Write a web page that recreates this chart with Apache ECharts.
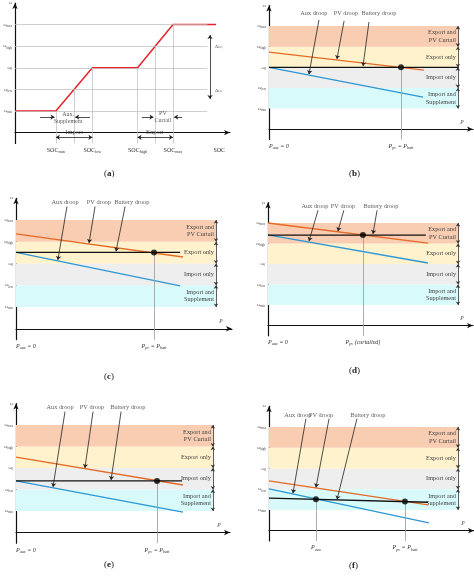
<!DOCTYPE html>
<html><head><meta charset="utf-8">
<script src="https://cdn.jsdelivr.net/npm/echarts@6/dist/echarts.min.js"></script>
<style>html,body{margin:0;padding:0;background:#fff}#c{width:474px;height:587px}</style>
</head><body><div id="c"></div>
<script>
// ================= DATA =================
// frequency levels (shared by all panels)
const freqLevels = [1, 2, 3, 4, 5, 6];
const freqNames = ['ω{min}', 'ω{low}', 'ω{0}', 'ω{high}', 'ω{max}', 'ω'];
const bandLevels = [[1, 2], [2, 3], [3, 4], [4, 5]];
const bandNames = ['Import and\nSupplement', 'Import only', 'Export only', 'Export and\nPV Curtail'];

// panel (a): frequency vs SOC
const socCurve = [[0, 1], [1.9, 1], [3.6, 3], [5.7, 3], [7.35, 5], [9.35, 5]];
const socGuides = [[1.9, 1], [2.75, 2], [3.6, 3], [5.7, 3], [6.5, 4], [7.35, 5]];
const socTickValues = [1.9, 3.6, 5.7, 7.35, 9.5];
const socTickNames = ['SOC{min}', 'SOC{low}', 'SOC{high}', 'SOC{max}', 'SOC'];
const socGridEnd = 8.95;
const importSpan = [1.9, 3.6];
const exportSpan = [5.7, 7.35];
const spanArrowY = -0.22;
const spanNames = ['Import', 'Export'];
const spanNameAt = [[2.75, 0.03], [6.5, 0.03]];
const regionNames = ['Aux.\nSupplement', 'PV\nCurtail'];
const regionNameAt = [[2.47, 0.68], [6.88, 0.72]];
const regionArrows = [
  [[1.16, 0.72], [1.84, 0.72]], [[3.49, 0.72], [2.8, 0.72]],
  [[5.9, 0.72], [6.44, 0.72]], [[7.77, 0.72], [7.4, 0.72]]
];
const deltaArrow = [[9.07, 4.52], [9.07, 1.56]];
const deltaNames = ['Δω{+}', 'Δω{−}'];
const deltaNameAt = [[9.5, 3.96], [9.5, 1.94]];

// panels (b)–(f): frequency vs power droop
const bandEnd = [9.26, 9.26, 9.27, 9.2, 9.22];
const pvDroop = [
  [[0, 3.74], [7.6, 2.87]],
  [[0, 4.36], [7.73, 3.30]],
  [[0, 5.0], [7.8, 4.02]],
  [[0, 3.51], [7.8, 2.21]],
  [[0, 2.40], [7.76, 1.24]]
];
const auxDroop = [
  [[0, 3], [7.55, 1.56]],
  [[0, 3.51], [7.6, 1.97]],
  [[0, 4.42], [7.8, 3.05]],
  [[0, 2.40], [7.8, 0.95]],
  [[0, 2.01], [7.8, 0.37]]
];
const battDroop = [
  [[0, 3], [9.3, 3]],
  [[0, 3.51], [7.6, 3.51]],
  [[0, 4.41], [7.7, 4.41]],
  [[0, 2.40], [7.76, 2.40]],
  [[0, 1.57], [7.76, 1.37]]
];
const operatingPoints = [
  [[6.47, 3]],
  [[6.39, 3.51]],
  [[4.63, 4.41]],
  [[6.59, 2.40]],
  [[2.29, 1.51], [6.63, 1.40]]
];
const pTickValues = [[0, 6.47], [0, 6.39], [0, 4.63], [0, 6.59], [2.29, 6.63]];
const pTickNames = [
  ['P{aux} = 0', 'P{pv} = P{batt}'],
  ['P{aux} = 0', 'P{pv} = P{batt}'],
  ['P{aux} = 0', 'P{pv} (curtailed)'],
  ['P{aux} = 0', 'P{pv} = P{batt}'],
  ['P{aux}', 'P{pv} = P{batt}']
];
const droopNames = ['Aux droop', 'PV droop', 'Battery droop'];
const droopLabelAt = [
  [[2.2, 5.64], [3.77, 5.64], [5.39, 5.64]],
  [[2.27, 5.83], [3.84, 5.83], [5.37, 5.83]],
  [[2.29, 5.83], [3.66, 5.83], [5.51, 5.83]],
  [[2.06, 5.84], [3.55, 5.84], [5.23, 5.84]],
  [[1.41, 5.58], [2.54, 5.58], [4.83, 5.58]]
];
const droopArrowFrom = [
  [[2.45, 5.3], [3.68, 5.25], [4.9, 5.2]],
  [[2.36, 5.62], [3.66, 5.62], [5.05, 5.62]],
  [[2.44, 5.62], [3.7, 5.62], [5.32, 5.62]],
  [[2.29, 5.62], [3.6, 5.62], [4.91, 5.62]],
  [[1.8, 5.4], [2.93, 5.4], [4.29, 5.4]]
];
const droopArrowTo = [
  [[1.96, 2.67], [3.33, 3.40], [4.61, 3.06]],
  [[1.94, 3.16], [3.38, 3.94], [4.63, 3.56]],
  [[2.0, 4.12], [3.41, 4.6], [5.12, 4.47]],
  [[1.73, 2.12], [3.22, 3.0], [4.44, 2.44]],
  [[1.17, 1.80], [2.29, 2.08], [3.32, 1.50]]
];
const panelTags = ['a', 'b', 'c', 'd', 'e', 'f'];

// ================= STYLE / LAYOUT =================
const SERIF = 'Liberation Serif';
const bandColors = ['#D9FAFB', '#EEEEEE', '#FFF2CC', '#F9CDB2'];
const layouts = [
  { left: 15, top: 3, width: 215, height: 140.4, tagX: 110, tagY: 175 },
  { left: 269, top: 5.5, width: 204, height: 134, tagX: 355, tagY: 175 },
  { left: 16, top: 198.25, width: 216, height: 141.4, tagX: 110, tagY: 378 },
  { left: 268, top: 202.5, width: 205, height: 133.3, tagX: 355, tagY: 372 },
  { left: 16, top: 403.5, width: 214, height: 139.75, tagX: 110, tagY: 566 },
  { left: 269, top: 406.25, width: 205, height: 134.75, tagX: 355, tagY: 567 }
];

function toRich(str, m, s) {
  let out = '', last = 0, mt;
  const re = /\{([^}]*)\}/g;
  while ((mt = re.exec(str))) {
    if (mt.index > last) out += '{' + m + '|' + str.slice(last, mt.index) + '}';
    out += '{' + s + '|' + mt[1] + '}';
    last = re.lastIndex;
  }
  if (last < str.length) out += '{' + m + '|' + str.slice(last) + '}';
  return out;
}
function seg(a, b) { return [{ coord: a }, { coord: b }]; }

const option = { animation: false, grid: [], xAxis: [], yAxis: [], series: [], graphic: [] };
const axisLineStyle = { show: true, symbol: ['none', 'arrow'], symbolSize: [4, 6], lineStyle: { color: '#111', width: 1.2 } };
const yRich = {
  m: { fontFamily: SERIF, fontSize: 4.6, color: '#444', lineHeight: 6 },
  s: { fontFamily: SERIF, fontSize: 3.2, color: '#444', lineHeight: 3.4, verticalAlign: 'bottom' }
};
const xRich = {
  m: { fontFamily: SERIF, fontSize: 6, fontStyle: 'italic', color: '#333', lineHeight: 7.5 },
  s: { fontFamily: SERIF, fontSize: 4.2, fontStyle: 'italic', color: '#333', lineHeight: 4.6, verticalAlign: 'bottom' },
  u: { fontFamily: SERIF, fontSize: 6, color: '#333', lineHeight: 7.5 },
  v: { fontFamily: SERIF, fontSize: 4.2, color: '#333', lineHeight: 4.6, verticalAlign: 'bottom' }
};

function addAxes(i, xTicks, xNames, xName, alignMin, upright) {
  const L = layouts[i];
  option.grid.push({ left: L.left, top: L.top, width: L.width, height: L.height });
  option.xAxis.push({
    gridIndex: i, type: 'value', min: 0, max: 10,
    axisLine: axisLineStyle, axisTick: { show: false }, splitLine: { show: false },
    axisLabel: {
      customValues: xTicks, margin: 3, alignMinLabel: alignMin ? 'left' : null,
      formatter: function (v) {
        let k = 0, d = 1e9;
        xTicks.forEach(function (t, j) { if (Math.abs(t - v) < d) { d = Math.abs(t - v); k = j; } });
        return upright ? toRich(xNames[k], 'u', 'v') : toRich(xNames[k], 'm', 's');
      },
      rich: xRich
    },
    name: xName, nameLocation: 'end', nameGap: -11,
    nameTextStyle: { fontFamily: SERIF, fontSize: 5.5, fontStyle: 'italic', color: '#444', align: 'center', verticalAlign: 'bottom', padding: [0, 0, 4, 0] }
  });
  option.yAxis.push({
    gridIndex: i, type: 'value', min: -0.5, max: 6,
    axisLine: axisLineStyle, axisTick: { show: false }, splitLine: { show: false },
    axisLabel: {
      customValues: freqLevels, margin: 3,
      formatter: function (v) { return toRich(freqNames[freqLevels.indexOf(Math.round(v))], 'm', 's'); },
      rich: yRich
    }
  });
  option.graphic.push({
    type: 'text', left: L.tagX - 6, top: L.tagY - 6,
    style: { text: '{n|(}{b|' + panelTags[i] + '}{n|)}', rich: { n: { fontFamily: SERIF, fontSize: 9, fill: '#222' }, b: { fontFamily: SERIF, fontSize: 9, fontWeight: 'bold', fill: '#222' } } }
  });
}
function textSeries(i, names, points, size, z) {
  return {
    type: 'scatter', xAxisIndex: i, yAxisIndex: i, symbolSize: 1, silent: true, z: z || 5,
    itemStyle: { color: 'rgba(0,0,0,0)' },
    data: names.map(function (n, j) { return { name: n, value: points[j] }; }),
    label: {
      show: true, position: 'inside', formatter: function (p) { return toRich(p.name, 't', 'ts'); },
      rich: {
        t: { fontFamily: SERIF, fontSize: size, color: '#333', lineHeight: size + 1, align: 'center' },
        ts: { fontFamily: SERIF, fontSize: size * 0.7, color: '#333', lineHeight: size * 0.7, verticalAlign: 'bottom' }
      }
    }
  };
}

// ---------- panel (a) ----------
addAxes(0, socTickValues, socTickNames, '', false, true);
option.series.push({
  type: 'line', xAxisIndex: 0, yAxisIndex: 0, data: [], silent: true, z: 1,
  markLine: {
    silent: true, symbol: 'none', label: { show: false },
    lineStyle: { color: '#BBBBBB', width: 0.7, type: 'solid' },
    data: [1, 2, 3, 4, 5].map(function (y) { return seg([0, y], [socGridEnd, y]); })
      .concat(socGuides.map(function (p) { return seg(p, [p[0], -0.5]); }))
  }
});
option.series.push({
  type: 'line', xAxisIndex: 0, yAxisIndex: 0, data: socCurve, symbol: 'none', z: 3,
  lineStyle: { color: '#E8222A', width: 1.5 }
});
option.series.push({
  type: 'line', xAxisIndex: 0, yAxisIndex: 0, data: [], silent: true, z: 4,
  markLine: {
    silent: true, symbol: ['arrow', 'arrow'], symbolSize: 4, label: { show: false },
    lineStyle: { color: '#222', width: 0.8, type: 'solid' },
    data: [seg([importSpan[0], spanArrowY], [importSpan[1], spanArrowY]),
           seg([exportSpan[0], spanArrowY], [exportSpan[1], spanArrowY]),
           seg(deltaArrow[0], deltaArrow[1])]
  }
});
option.series.push({
  type: 'line', xAxisIndex: 0, yAxisIndex: 0, data: [], silent: true, z: 4,
  markLine: {
    silent: true, symbol: ['none', 'arrow'], symbolSize: 4, label: { show: false },
    lineStyle: { color: '#222', width: 0.8, type: 'solid' },
    data: regionArrows.map(function (a) { return seg(a[0], a[1]); })
  }
});
option.series.push(textSeries(0, spanNames, spanNameAt, 6.5));
option.series.push(textSeries(0, regionNames, regionNameAt, 6));
option.series.push(textSeries(0, deltaNames, deltaNameAt, 5));

// ---------- panels (b)–(f) ----------
for (let k = 0; k < 5; k++) {
  const i = k + 1;
  addAxes(i, pTickValues[k], pTickNames[k], 'P', pTickValues[k][0] === 0, false);
  const xe = bandEnd[k];
  option.series.push({
    type: 'line', xAxisIndex: i, yAxisIndex: i, data: [], silent: true, z: 1,
    markArea: {
      silent: true,
      label: { show: true, position: 'insideRight', distance: 2, fontFamily: SERIF, fontSize: 6.3, color: '#444', lineHeight: 7.2 },
      data: bandLevels.map(function (b, j) {
        return [{ coord: [0, b[0]], name: bandNames[j], itemStyle: { color: bandColors[j] } }, { coord: [xe, b[1]] }];
      })
    },
    markLine: {
      silent: true, symbol: ['arrow', 'arrow'], symbolSize: 3.5, label: { show: false },
      lineStyle: { color: '#333', width: 0.8, type: 'solid' },
      data: bandLevels.map(function (b) { return seg([xe, b[0]], [xe, b[1]]); })
    }
  });
  option.series.push({
    type: 'line', xAxisIndex: i, yAxisIndex: i, data: [], silent: true, z: 2,
    markLine: {
      silent: true, symbol: 'none', label: { show: false },
      lineStyle: { color: '#999', width: 0.8, type: 'solid' },
      data: operatingPoints[k].map(function (p) { return seg(p, [p[0], -0.5]); })
    }
  });
  option.series.push({ type: 'line', xAxisIndex: i, yAxisIndex: i, data: pvDroop[k], symbol: 'none', z: 3, lineStyle: { color: '#E46A26', width: 1.3 } });
  option.series.push({ type: 'line', xAxisIndex: i, yAxisIndex: i, data: auxDroop[k], symbol: 'none', z: 3, lineStyle: { color: '#2C97D4', width: 1.3 } });
  option.series.push({ type: 'line', xAxisIndex: i, yAxisIndex: i, data: battDroop[k], symbol: 'none', z: 3, lineStyle: { color: '#111', width: 1.4 } });
  option.series.push({ type: 'scatter', xAxisIndex: i, yAxisIndex: i, data: operatingPoints[k], symbolSize: 6, z: 5, itemStyle: { color: '#000' } });
  option.series.push({
    type: 'line', xAxisIndex: i, yAxisIndex: i, data: [], silent: true, z: 4,
    markLine: {
      silent: true, symbol: ['none', 'arrow'], symbolSize: 4, label: { show: false },
      lineStyle: { color: '#222', width: 0.8, type: 'solid' },
      data: droopArrowFrom[k].map(function (a, j) { return seg(a, droopArrowTo[k][j]); })
    }
  });
  option.series.push(textSeries(i, droopNames, droopLabelAt[k], 6.3));
}

const chart = echarts.init(document.getElementById('c'), null, { renderer: 'canvas' });
chart.setOption(option);
</script>
</body></html>
